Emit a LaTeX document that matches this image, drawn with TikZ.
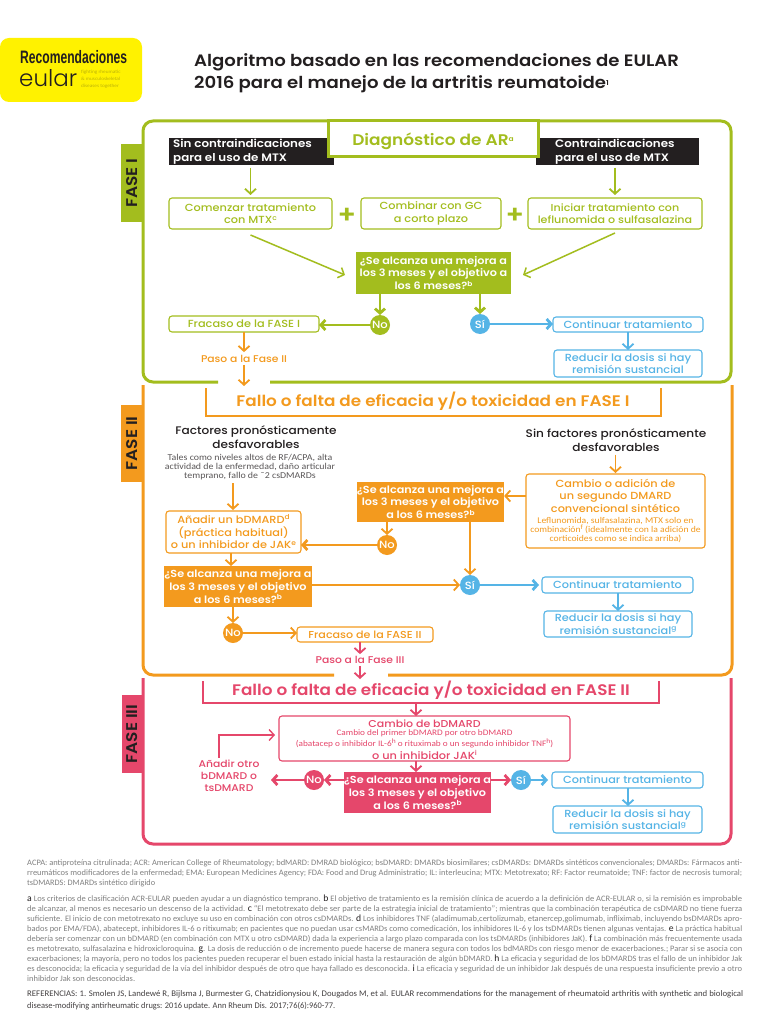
\documentclass[tikz,border=0pt]{standalone}
\usepackage{fontspec}
\usepackage{graphicx}
\setmainfont{Poppins Medium}[FakeStretch=1.1,BoldFont=Poppins SemiBold]
\newfontfamily\narrowf{Carlito}
\newfontfamily\narrowx{Carlito}[FakeStretch=1.1]
\newfontfamily\headf{Liberation Sans}
\newfontfamily\lightf{Poppins Light}
\usetikzlibrary{arrows.meta}
\definecolor{cgreen}{HTML}{A3BD1E}
\definecolor{corange}{HTML}{F39A1E}
\definecolor{cpink}{HTML}{E5476B}
\definecolor{cblue}{HTML}{55B4E6}
\definecolor{cyellow}{HTML}{FFF200}
\definecolor{cdark}{HTML}{231F20}
\definecolor{cgray}{HTML}{808080}
\newcommand{\fs}[2]{\fontsize{#1}{#2}\selectfont}
\newcommand{\spp}[1]{\raisebox{3.4pt}{\fontsize{6.8}{7}\selectfont #1}}
\newcommand{\bx}[7]{%
  \pgfmathsetmacro\cxx{(#2+#4)/2}\pgfmathsetmacro\cyy{(#3+#5)/2}%
  \pgfmathsetmacro\www{#4-#2}\pgfmathsetmacro\hhh{#5-#3}%
  \node[#6,minimum width=\www pt,minimum height=\hhh pt,inner sep=0pt,outer sep=0pt,align=center] (#1) at (\cxx,\cyy) {#7};}
\newcommand{\fl}[2]{\node[anchor=base west,inner sep=0pt,text=cgray,font=\narrowf\fs{8.3}{10}] (#1) at (27,#2) {\resizebox{715pt}{\height}{\strut\FLT}};}
\newcommand{\nl}[1]{{\color{cdark}\fontsize{9.5}{10}\selectfont #1}}
\tikzset{
 bxline/.style={draw=#1,rounded corners=3pt,line width=1.1pt,fill=white,text=#1,font=\fs{10.3}{12.6}},
 qbox/.style={fill=#1,text=white,font=\bfseries\fs{10.2}{12.7}},
 blk/.style={fill=cdark,text=white,font=\bfseries\fs{10.8}{13.6}},
 circ/.style={circle,fill=#1,text=white,font=\fs{10.5}{10},minimum size=20pt,inner sep=0pt,outer sep=0pt},
 tab/.style={fill=#1,text=cdark,font=\bfseries\fs{15.5}{15}},
 arr/.style={draw=#1,line width=1.8pt,-{Straight Barb[length=5pt,width=11pt]}},
 arrb/.style={draw=#1,line width=2.8pt,-{Straight Barb[length=4.5pt,width=10pt]}},
 frm/.style={draw=#1,line width=3pt,rounded corners=10pt},
 lab/.style={text=#1,inner sep=0pt,align=center},
 hd/.style={text=#1,inner sep=0pt,align=center,font=\bfseries\fs{15.3}{16}},
 tiny/.style={text=#1,inner sep=0pt,align=center,font=\narrowx\fs{9}{9.1}},
}
\begin{document}
\begin{tikzpicture}[x=1pt,y=-1pt]
\useasboundingbox (0,0) rectangle (768,1024);
\fill[white] (0,0) rectangle (768,1024);
% header
\fill[cyellow,rounded corners=9pt] (0,38) rectangle (142,102);
\node[anchor=west,inner sep=0pt,font=\headf\bfseries\fs{18}{18},text=cdark] (rec) at (20,57) {\resizebox{107pt}{\height}{Recomendaciones}};
\node[anchor=west,inner sep=0pt,font=\lightf\fs{23}{23},text=cdark] (eu) at (19,78) {eular};
\node[anchor=west,inner sep=0pt,font=\narrowx\fs{4.8}{7},text=cdark!30!cyellow,align=left] (ft) at (81,79.5) {fighting rheumatic\\\& musculoskeletal\\diseases together};
\node[anchor=base west,inner sep=0pt,font=\bfseries\fs{16.45}{22},text=cdark,align=left] (ttl1) at (194,67) {Algoritmo basado en las recomendaciones de EULAR};
\node[anchor=base west,inner sep=0pt,font=\bfseries\fs{16.45}{22},text=cdark,align=left] (ttl2) at (194,89) {2016 para el manejo de la artritis reumatoide\spp{1}};
% FASE I
\draw[frm=cgreen] (270,382) -- (731,382) -- (731,121) -- (143,121) -- (143,382) -- (218,382);
\bx{t1}{121}{144}{143}{222}{tab=cgreen}{\rotatebox{90}{FASE I}}
\bx{bl}{169}{138}{334}{165}{blk}{}
\node[blk,fill=none,inner sep=0pt,anchor=west,align=left] (blt) at (173,151.5) {Sin contraindicaciones\\para el uso de MTX};
\bx{br}{536}{138}{699}{165}{blk}{}
\node[blk,fill=none,inner sep=0pt,anchor=west,align=left] (brt) at (555,151.5) {Contraindicaciones\\para el uso de MTX};
\bx{dg}{328}{121}{538}{157}{draw=cgreen,line width=3pt,fill=white}{}
\node[lab=cgreen,font=\bfseries\fs{15.4}{15}] (dgt) at (433,141) {Diagnóstico de AR\spp{a}};
\bx{cm}{169}{198}{332}{229}{bxline=cgreen}{Comenzar tratamiento\\con MTX\spp{c}}
\bx{cb}{361}{198}{501}{229}{bxline=cgreen}{Combinar con GC\\a corto plazo}
\bx{ini}{528}{198}{702}{229}{bxline=cgreen,font=\fs{10.1}{12.6}}{Iniciar tratamiento con\\leflunomida o sulfasalazina}
\node[lab=cgreen,font=\bfseries\fs{25}{25}] (pl1) at (347,216) {+};
\node[lab=cgreen,font=\bfseries\fs{25}{25}] (pl2) at (515,216) {+};
\bx{q1}{356}{252}{511}{294}{qbox=cgreen}{¿Se alcanza una mejora a\\los 3 meses y el objetivo a\\los 6 meses?\spp{b}}
\node[circ=cgreen] (no1) at (380,325) {No};
\node[circ=cblue] (si1) at (480,324) {Sí};
\bx{fr1}{169}{316}{319}{332}{bxline=cgreen,font=\fs{10.3}{12}}{Fracaso de la FASE I}
\bx{co1}{553}{317}{703}{332}{bxline=cblue,font=\fs{10.3}{12}}{Continuar tratamiento}
\bx{re1}{554}{350}{702}{377}{bxline=cblue,font=\fs{10.3}{12.6}}{Reducir la dosis si hay\\remisión sustancial}
\node[lab=corange,font=\fs{9.8}{12}] (pa2) at (244,359) {Paso a la Fase II};
\draw[arr=cgreen] ([yshift=-3pt]bl.south -| cm.north) -- ([yshift=3pt]cm.north);
\draw[arr=cgreen] ([yshift=-3pt]br.south -| ini.north) -- ([yshift=3pt]ini.north);
\draw[arr=cgreen,line width=1.5pt] ([yshift=-6pt]cm.south) -- ([shift={(-11pt,-2pt)}]q1.west);
\draw[arr=cgreen,line width=1.5pt] ([yshift=-4pt]ini.south) -- ([shift={(12pt,-2pt)}]q1.east);
\draw[arrb=cgreen] (q1.south -| no1.north) -- (no1.north);
\draw[arrb=cgreen] (q1.south -| si1.north) -- (si1.north);
\draw[arrb=cgreen] (no1.west) -- (no1.west -| fr1.east);
\draw[arrb=cblue] (si1.east) -- (si1.east -| co1.west);
\draw[arr=cblue] (co1.south -| 628,0) -- (re1.north -| 628,0);
\draw[arr=corange] (fr1.south) -- ([yshift=3pt]pa2.north);
\coordinate (f1a) at (244,386);
\draw[arr=corange] ([yshift=-2pt]pa2.south) -- (f1a);
% FASE II
\draw[frm=corange] (143,385) -- (143,675) -- (334,675);
\draw[frm=corange] (388,675) -- (732,675) -- (732,385);
\bx{t2}{121}{405}{143}{482}{tab=corange}{\rotatebox{90}{FASE II}}
\draw[corange,line width=2pt] (205.5,388) -- (205.5,416) -- (661,416) -- (661,388);
\node[hd=corange] (f1) at (433,401) {Fallo o falta de eficacia y/o toxicidad en FASE I};
\node[lab=cdark,font=\fs{11}{14}] (fa) at (256,437) {Factores pronósticamente\\desfavorables};
\node[tiny=cdark!75] (ta) at (250,467) {Tales como niveles altos de RF/ACPA, alta\\actividad de la enfermedad, daño articular\\temprano, fallo de ˜2 csDMARDs};
\node[lab=cdark,font=\fs{11}{14}] (sf) at (616,440) {Sin factores pronósticamente\\desfavorables};
\bx{an}{166}{511}{301}{553}{bxline=corange,font=\fs{10.3}{12.8}}{Añadir un bDMARD\spp{d}\\(práctica habitual)\\o un inhibidor de JAK\spp{e}}
\bx{q2}{164}{566}{312}{607}{qbox=corange}{¿Se alcanza una mejora a\\los 3 meses y el objetivo\\a los 6 meses?\spp{b}}
\node[circ=corange] (no2) at (233,633) {No};
\bx{fr2}{297}{627}{433}{642}{bxline=corange,font=\fs{10.1}{12}}{Fracaso de la FASE II}
\node[lab=cpink,font=\fs{9.8}{12}] (pa3) at (360,660) {Paso a la Fase III};
\coordinate (f2a) at (360,679);
\bx{q3}{357}{482}{504}{522}{qbox=corange}{¿Se alcanza una mejora a\\los 3 meses y el objetivo\\a los 6 meses?\spp{b}}
\node[circ=corange] (no3) at (387,545) {No};
\bx{cam}{526}{474}{705}{548}{bxline=corange,font=\fs{10.3}{12.6}}{Cambio o adición de\\un segundo DMARD\\convencional sintético\\[-1pt]{\narrowx\fs{8.8}{9}Leflunomida, sulfasalazina, MTX solo en}\\[-3.6pt]{\narrowx\fs{8.8}{9}combinación\spp{f} (idealmente con la adición de}\\[-3.6pt]{\narrowx\fs{8.8}{9}corticoides como se indica arriba)}}
\node[circ=cblue] (si2) at (470,585) {Sí};
\bx{co2}{542}{577}{693}{593}{bxline=cblue,font=\fs{10.3}{12}}{Continuar tratamiento}
\bx{re2}{544}{611}{692}{637}{bxline=cblue,font=\fs{10.3}{12.6}}{Reducir la dosis si hay\\remisión sustancial\spp{g}}
\draw[arr=corange] ([yshift=-3pt]ta.south -| 233,0) -- ([yshift=1pt]an.north -| 233,0);
\draw[arr=corange] (an.south -| 231,0) -- (q2.north -| 231,0);
\draw[arr=corange] (q2.south -| no2.north) -- (no2.north);
\draw[arr=corange] (no2.east) -- (no2.east -| fr2.west);
\draw[arr=cpink] (fr2.south -| pa3.north) -- ([yshift=2pt]pa3.north);
\draw[arr=cpink] ([yshift=-2pt]pa3.south) -- (f2a);
\draw[arr=corange] ([yshift=-3pt]sf.south -| cam.north) -- ([yshift=1pt]cam.north);
\draw[arr=corange] (cam.west |- 0,496) -- (q3.east |- 0,496);
\draw[arr=corange] (q3.south -| no3.north) -- (no3.north);
\draw[arrb=corange] (no3.west) -- (no3.west -| an.east);
\draw[arr=corange] (q3.south -| si2.north) -- (si2.north);
\draw[arr=corange] (q2.east |- si2.west) -- (si2.west);
\draw[arrb=cblue] (si2.east) -- ([xshift=-3pt]si2.east -| co2.west);
\draw[arr=cblue] (co2.south -| 618,0) -- (re2.north -| 618,0);
% FASE III
\draw[frm=cpink] (143,678) -- (143,844) -- (731,844) -- (731,678);
\bx{t3}{122}{695}{143}{773}{tab=cpink}{\rotatebox{90}{FASE III}}
\draw[cpink,line width=2pt] (203,681) -- (203,703) -- (659,703) -- (659,681);
\node[hd=cpink] (f2) at (431,690) {Fallo o falta de eficacia y/o toxicidad en FASE II};
\bx{cbd}{279}{716}{570}{761}{bxline=cpink,font=\fs{10.3}{11}}{}
\node[lab=cpink,font=\fs{10}{11}] (cbd1) at (cbd.center |- 0,723.5) {Cambio de bDMARD};
\node[tiny=cpink,font=\narrowx\fs{8.4}{10.5}] (cbd2) at (cbd.center |- 0,739) {Cambio del primer bDMARD por otro bDMARD\\(abatacep o inhibidor IL-6\spp{h} o rituximab o un segundo inhibidor TNF\spp{h})};
\node[lab=cpink,font=\fs{10.3}{12}] (cbd3) at (cbd.center |- 0,755) {o un inhibidor JAK\spp{i}};
\bx{q4}{344}{772}{491}{813}{qbox=cpink}{¿Se alcanza una mejora a\\los 3 meses y el objetivo\\a los 6 meses?\spp{b}}
\node[circ=cpink] (no4) at (314,780) {No};
\node[circ=cblue] (si4) at (521,780) {Sí};
\node[lab=cpink,font=\fs{9.8}{12}] (ao) at (229,776) {Añadir otro\\bDMARD o\\tsDMARD};
\coordinate (aot) at (271,780);
\bx{co4}{552}{772}{703}{788}{bxline=cblue,font=\fs{10.3}{12}}{Continuar tratamiento}
\bx{re4}{553}{806}{702}{833}{bxline=cblue,font=\fs{10.3}{12.6}}{Reducir la dosis si hay\\remisión sustancial\spp{g}}
\coordinate (f3b) at (416,703);
\draw[arr=cpink] (f3b) -- (cbd.north -| f3b);
\draw[arr=cpink] (cbd.south -| f3b) -- (q4.north -| f3b);
\draw[arrb=cpink] (q4.west |- no4.east) -- (no4.east);
\draw[arrb=cpink] (no4.west) -- (aot);
\draw[arrb=cpink] (q4.east |- si4.west) -- (si4.west);
\draw[arrb=cblue] (si4.east) -- ([xshift=-4pt]si4.east -| co4.west);
\draw[arr=cblue] (co4.south -| 628,0) -- (re4.north -| 628,0);
\draw[draw=cpink,line width=1.4pt,-{Straight Barb[length=5pt,width=11pt]}] ([yshift=2pt]ao.north -| 219,0) |- ([xshift=-4pt]cbd.west |- 0,735);
% footer
\def\FLT{ACPA: antiproteína citrulinada; ACR: American College of Rheumatology; bdMARD: DMRAD biológico; bsDMARD: DMARDs biosimilares; csDMARDs: DMARDs sintéticos convencionales; DMARDs: Fármacos anti-}\fl{n1}{865}
\def\FLT{rreumáticos modificadores de la enfermedad; EMA: European Medicines Agency; FDA: Food and Drug Administratio; IL: interleucina; MTX: Metotrexato; RF: Factor reumatoide; TNF: factor de necrosis tumoral;}\fl{n2}{875}
\node[anchor=base west,inner sep=0pt,text=cgray,font=\narrowf\fs{8.3}{10}] (n3) at (27,885) {\resizebox{128pt}{\height}{tsDMARDS: DMARDs sintético dirigido}};
\def\FLT{\nl{a} Los criterios de clasificación ACR-EULAR pueden ayudar a un diagnóstico temprano. \nl{b} El objetivo de tratamiento es la remisión clínica de acuerdo a la definición de ACR-EULAR o, si la remisión es improbable}\fl{m1}{901}
\def\FLT{de alcanzar, al menos es necesario un descenso de la actividad. \nl{c} “El metotrexato debe ser parte de la estrategia inicial de tratamiento”; mientras que la combinación terapéutica de csDMARD no tiene fuerza}\fl{m2}{911}
\def\FLT{suficiente. El inicio de con metotrexato no excluye su uso en combinación con otros csDMARDs. \nl{d} Los inhibidores TNF (aladimumab,certolizumab, etanercep,golimumab, infliximab, incluyendo bsDMARDs apro-}\fl{m3}{921}
\def\FLT{bados por EMA/FDA), abatecept, inhibidores IL-6 o ritixumab; en pacientes que no puedan usar csMARDs como comedicación, los inhibidores IL-6 y los tsDMARDs tienen algunas ventajas. \nl{e} La práctica habitual}\fl{m4}{931}
\def\FLT{debería ser comenzar con un bDMARD (en combinación con MTX u otro csDMARD) dada la experiencia a largo plazo comparada con los tsDMARDs (inhibidores JaK). \nl{f} La combinación más frecuentemente usada}\fl{m5}{941}
\def\FLT{es metotrexato, sulfasalazina e hidroxicloroquina. \nl{g}. La dosis de reducción o de incremento puede hacerse de manera segura con todos los bdMARDs con riesgo menor de exacerbaciones.; Parar si se asocia con}\fl{m6}{951}
\def\FLT{exacerbaciones; la mayoría, pero no todos los pacientes pueden recuperar el buen estado inicial hasta la restauración de algún bDMARD. \nl{h} La eficacia y seguridad de los bDMARDS tras el fallo de un inhibidor Jak}\fl{m7}{961}
\def\FLT{es desconocida; la eficacia y seguridad de la vía del inhibidor después de otro que haya fallado es desconocida. \nl{i} La eficacia y seguridad de un inhibidor Jak después de una respuesta insuficiente previo a otro}\fl{m8}{971}
\node[anchor=base west,inner sep=0pt,text=cgray,font=\narrowf\fs{8.3}{10}] (m9) at (27,981) {\resizebox{108pt}{\height}{inhibidor Jak son desconocidas.}};
\node[anchor=base west,inner sep=0pt,text=cdark!85,font=\narrowf\fs{8.6}{10}] (r1) at (27,996) {\resizebox{716pt}{\height}{REFERENCIAS: 1. Smolen JS, Landewé R, Bijlsma J, Burmester G, Chatzidionysiou K, Dougados M, et al. EULAR recommendations for the management of rheumatoid arthritis with synthetic and biological}};
\node[anchor=base west,inner sep=0pt,text=cdark!85,font=\narrowf\fs{8.6}{10}] (r2) at (27,1008) {\resizebox{308pt}{\height}{disease-modifying antirheumatic drugs: 2016 update. Ann Rheum Dis. 2017;76(6):960-77.}};
\end{tikzpicture}
\end{document}
